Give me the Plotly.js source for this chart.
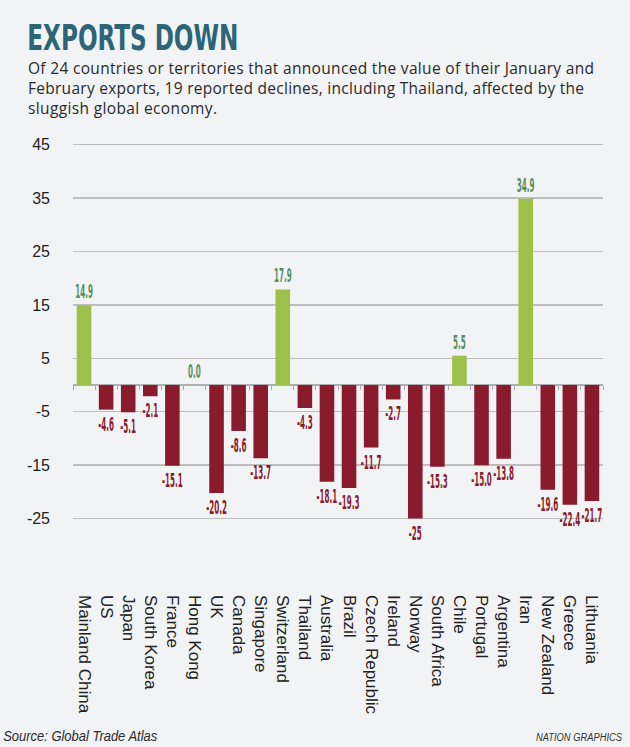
<!DOCTYPE html>
<html>
<head>
<meta charset="utf-8">
<script src="https://cdn.plot.ly/plotly-3.0.1.min.js"></script>
<style>
  html, body { margin: 0; padding: 0; background: #f2f3f5; }
  #chart { width: 630px; height: 747px; }
</style>
</head>
<body>
<div id="chart"></div>
<script>
// January–February export change by country / territory (%)
const countries = ["Mainland China", "US", "Japan", "South Korea", "France", "Hong Kong", "UK",
  "Canada", "Singapore", "Switzerland", "Thailand", "Australia", "Brazil", "Czech Republic",
  "Ireland", "Norway", "South Africa", "Chile", "Portugal", "Argentina", "Iran", "New Zealand",
  "Greece", "Lithuania"];
const changes = [14.9, -4.6, -5.1, -2.1, -15.1, 0.0, -20.2, -8.6, -13.7, 17.9, -4.3, -18.1,
  -19.3, -11.7, -2.7, -25, -15.3, 5.5, -15.0, -13.8, 34.9, -19.6, -22.4, -21.7];
const valueLabels = ["14.9", "-4.6", "-5.1", "-2.1", "-15.1", "0.0", "-20.2", "-8.6", "-13.7",
  "17.9", "-4.3", "-18.1", "-19.3", "-11.7", "-2.7", "-25", "-15.3", "5.5", "-15.0", "-13.8",
  "34.9", "-19.6", "-22.4", "-21.7"];
const yTicks = [-25, -15, -5, 5, 15, 25, 35, 45];
const subtitleLines = [
  "Of 24 countries or territories that announced the value of their January and",
  "February exports, 19 reported declines, including Thailand, affected by the",
  "sluggish global economy."
];

const GREEN = "#9dc04b", GREEN_TXT = "#55905e";
const RED = "#8a1b2c", RED_TXT = "#8a1b2c";
const CONDENSED = "DejaVu Sans Condensed, sans-serif";
const SANS = "Liberation Sans, Arial, Helvetica, sans-serif";
const TEXT_SANS = "Open Sans, Liberation Sans, sans-serif";

// plot area in pixels
const M = { l: 73, r: 27, t: 134, b: 159 };
const W = 630, H = 747;
const PW = W - M.l - M.r, PH = H - M.t - M.b;
const px = x => (x - M.l) / PW;
const py = y => (H - M.b - y) / PH;
const Y_RANGE = [-38, 47];

const barTrace = {
  type: "bar",
  x: countries,
  y: changes,
  text: valueLabels,
  textposition: "outside",
  cliponaxis: false,
  constraintext: "none",
  textfont: {
    family: CONDENSED, size: 19, weight: 700,
    color: changes.map(v => v >= 0 ? GREEN_TXT : RED_TXT)
  },
  marker: { color: changes.map(v => v >= 0 ? GREEN : RED) },
  hoverinfo: "skip"
};

// invisible trace that carries the boundary tick marks on the zero line
const boundaries = countries.map((_, i) => i - 0.5).concat([countries.length - 0.5]);
const tickTrace = {
  type: "scatter", mode: "markers",
  x: [0], y: [0], xaxis: "x2", yaxis: "y",
  marker: { opacity: 0 }, hoverinfo: "skip", showlegend: false
};

// headline and footer: centre x, top/middle y, squeezed width
const textBlocks = [
  { text: "<b>EXPORTS DOWN</b>", cx: 132.5, y: 15, anchor: "top", width: 211,
    font: { family: CONDENSED, size: 36, color: "#2b6577" } },
  { text: "<i>Source: Global Trade Atlas</i>", cx: 80, y: 736, anchor: "middle", width: 154,
    font: { family: SANS, size: 15, color: "#2a2a2a" } },
  { text: "<i>NATION GRAPHICS</i>", cx: 579, y: 737, anchor: "middle", width: 86,
    font: { family: SANS, size: 10, color: "#333333" } }
];
const subtitleWidths = [566, 556, 189];

const annotations = textBlocks.map(b => ({
  text: b.text, x: px(b.cx), y: py(b.y), xanchor: "center", yanchor: b.anchor,
  xref: "paper", yref: "paper", showarrow: false, font: b.font
}));
annotations.push({
  text: subtitleLines.join("<br>"), x: px(27), y: py(56.5), xanchor: "left", yanchor: "top",
  align: "left", xref: "paper", yref: "paper", showarrow: false, borderpad: 0,
  font: { family: TEXT_SANS, size: 15.5, color: "#2a2a2a" }
});

const layout = {
  width: W, height: H,
  margin: M,
  paper_bgcolor: "#f2f3f5",
  plot_bgcolor: "#f2f3f5",
  showlegend: false,
  bargap: 0.34,
  xaxis: {
    type: "category",
    range: [-0.5, countries.length - 0.5],
    tickangle: 90,
    ticks: "",
    ticklabelstandoff: 6,
    tickfont: { family: SANS, size: 17, color: "#222222" },
    showgrid: false, zeroline: false, showline: false, fixedrange: true
  },
  xaxis2: {
    overlaying: "x",
    anchor: "free",
    position: (0 - Y_RANGE[0]) / (Y_RANGE[1] - Y_RANGE[0]),
    range: [-0.5, countries.length - 0.5],
    tickmode: "array", tickvals: boundaries,
    ticks: "outside", ticklen: 4, tickwidth: 1, tickcolor: "#a9a9a9",
    showticklabels: false, showgrid: false, zeroline: false, showline: false
  },
  yaxis: {
    range: Y_RANGE,
    tickmode: "array", tickvals: yTicks,
    ticktext: yTicks.map(String),
    tickfont: { family: SANS, size: 16, color: "#222222" },
    ticklabelstandoff: 22,
    showgrid: true, gridcolor: "#bdbdbd", gridwidth: 1.5,
    zeroline: true, zerolinecolor: "#b0b0b0", zerolinewidth: 1.5,
    showline: false, ticks: "", fixedrange: true
  },
  annotations: annotations
};

function squeeze(el, width, adjust) {
  el.setAttribute("textLength", width);
  el.setAttribute("lengthAdjust", adjust);
}

// narrow a bar label horizontally about its own centre
function narrowLabel(el, k) {
  const bb = el.getBBox();
  const cx = bb.x + bb.width / 2;
  const t = el.getAttribute("transform") || "";
  el.setAttribute("transform", t + " translate(" + cx + ",0) scale(" + k + ",1) translate(" + (-cx) + ",0)");
}

function overlaps(a, b) {
  return a.left < b.right && b.left < a.right && a.top < b.bottom && b.top < a.bottom;
}

Plotly.newPlot("chart", [barTrace, tickTrace], layout, { staticPlot: true, displayModeBar: false })
  .then(gd => {
    const labels = Array.from(gd.querySelectorAll("text.bartext"));
    labels.forEach(el => narrowLabel(el, 0.42));
    // push the lower of two touching labels further down
    for (let i = 1; i < labels.length; i++) {
      const a = labels[i - 1].getBoundingClientRect();
      const b = labels[i].getBoundingClientRect();
      if (!overlaps(a, b)) continue;
      const lower = a.top > b.top ? labels[i - 1] : labels[i];
      const other = lower === labels[i] ? a : b;
      const own = lower.getBoundingClientRect();
      const dy = other.bottom - own.top + 1;
      lower.setAttribute("transform", "translate(0," + dy + ") " + (lower.getAttribute("transform") || ""));
    }
    textBlocks.forEach((b, i) => {
      const el = gd.querySelector('g.annotation[data-index="' + i + '"] text');
      if (el) squeeze(el, b.width, "spacingAndGlyphs");
    });
    const sub = gd.querySelector('g.annotation[data-index="' + textBlocks.length + '"] text');
    if (sub) {
      sub.querySelectorAll("tspan.line").forEach((ts, i) => squeeze(ts, subtitleWidths[i], "spacing"));
    }
  });
</script>
</body>
</html>
